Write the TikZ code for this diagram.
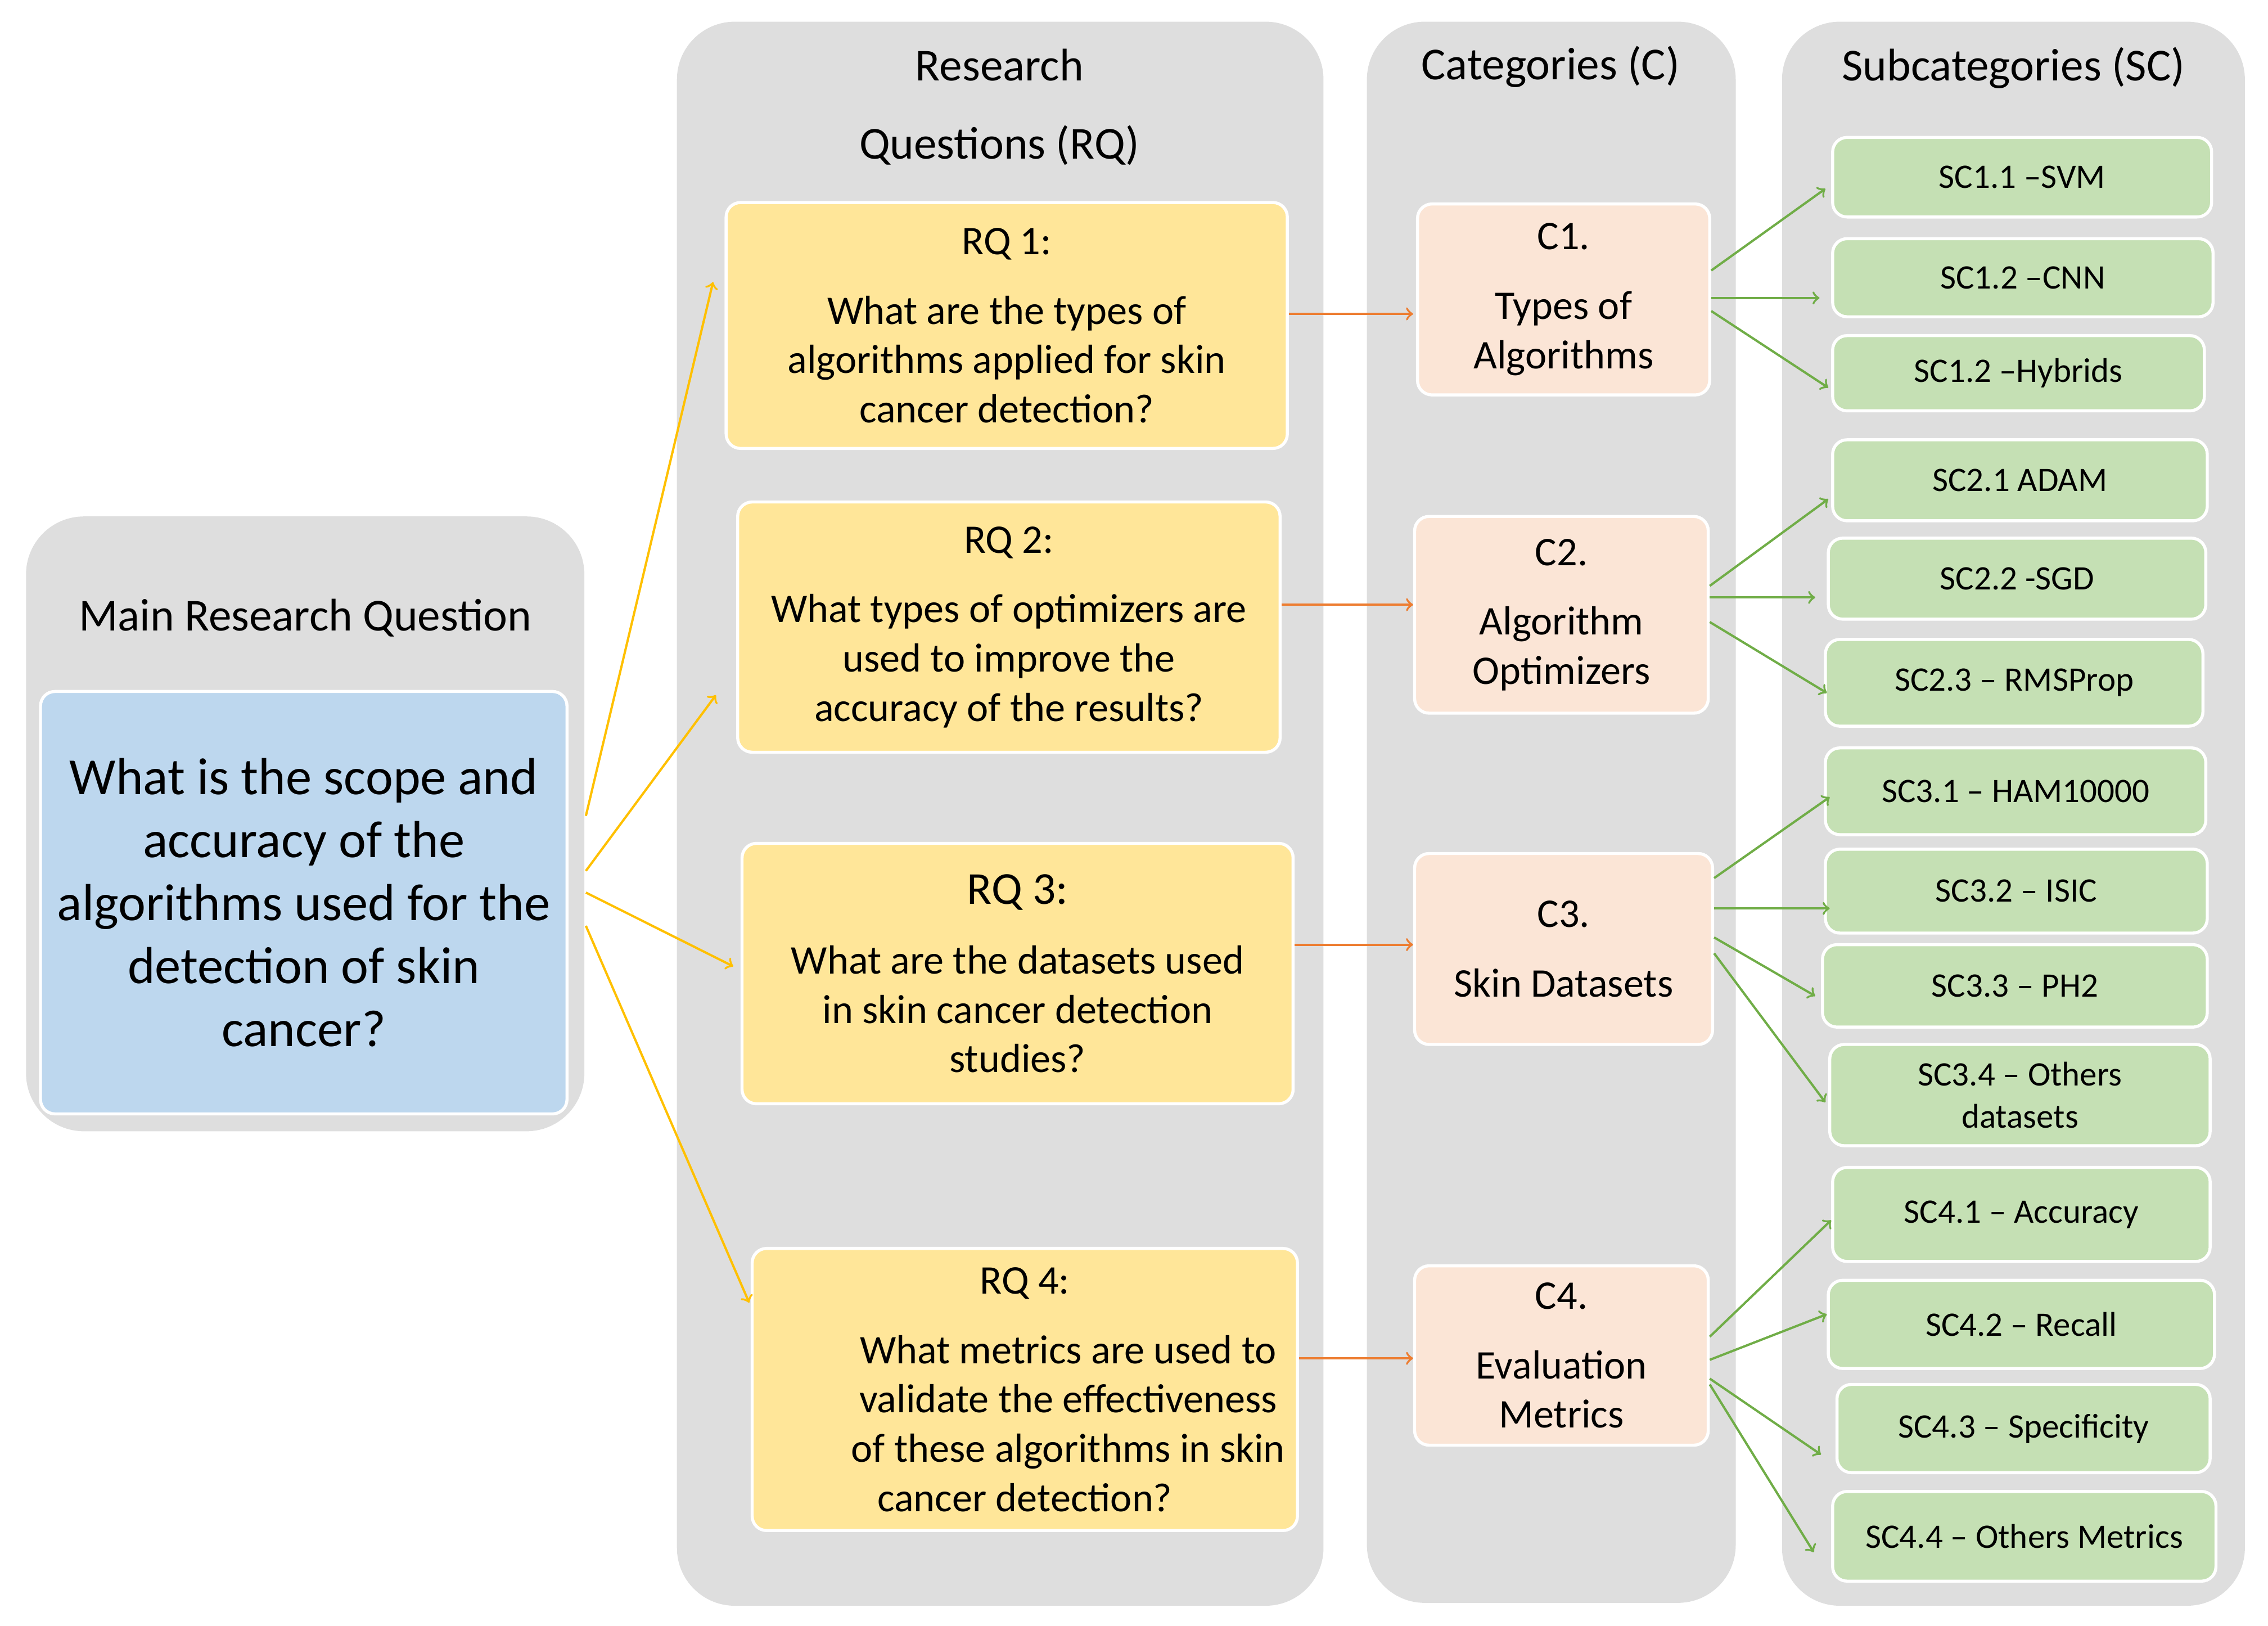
\documentclass[tikz,border=0pt]{standalone}
\usepackage{fontspec}
\setmainfont{Carlito}
\usetikzlibrary{calc}
\definecolor{pan}{HTML}{DEDEDE}
\definecolor{blu}{HTML}{BDD7EE}
\definecolor{yel}{HTML}{FFE699}
\definecolor{pch}{HTML}{FBE5D6}
\definecolor{grn}{HTML}{C5E0B4}
\definecolor{ya}{HTML}{FFC000}
\definecolor{oa}{HTML}{ED7D31}
\definecolor{ga}{HTML}{70AD47}
\newcommand\bx[7]{\node[#6, minimum width={(#4-#2)*0.02cm}, minimum height={(#5-#3)*0.02cm}] (#1) at ({(#2+#4)/2},{(#3+#5)/2}) {#7};}
\tikzset{
 panel/.style={fill=pan, draw=none, rounded corners=0.8cm, inner sep=0},
 box/.style={draw=white, line width=1.2pt, rounded corners=0.2cm, align=center, inner sep=2pt},
 mq/.style={box, fill=blu, font=\fontsize{20.5}{24.8}\selectfont},
 rq/.style={box, fill=yel, font=\fontsize{16}{19.4}\selectfont},
 cc/.style={box, fill=pch, font=\fontsize{16}{19.4}\selectfont},
 sc/.style={box, fill=grn, font=\fontsize{13.5}{16.5}\selectfont},
 hd/.style={font=\fontsize{18}{30.7}\selectfont, align=center},
 ay/.style={draw=ya, line width=0.9pt, ->},
 ao/.style={draw=oa, line width=0.9pt, ->},
 ag/.style={draw=ga, line width=0.9pt, ->},
}
\begin{document}
\begin{tikzpicture}[x=0.02cm,y=-0.02cm]
\useasboundingbox (0,0) rectangle (1568,1124);
\bx{pm}{18}{357}{404}{782}{panel}{}
\bx{pr}{468}{15}{915}{1110}{panel}{}
\bx{pc}{945}{15}{1200}{1108}{panel}{}
\bx{ps}{1232}{15}{1552}{1110}{panel}{}
\node[hd] (hm) at (211,427) {Main Research Question};
\node[hd] (hr) at (691,74) {Research\\Questions (RQ)};
\node[hd] (hc) at (1072,46) {Categories (C)};
\node[hd] (hs) at (1392,47) {Subcategories (SC)};
\bx{main}{28}{478}{392}{770}{mq}{What is the scope and\\accuracy of the\\algorithms used for the\\detection of skin\\cancer?}
\bx{rq1}{502}{140}{890}{310}{rq}{RQ 1:\\[8pt]What are the types of\\algorithms applied for skin\\cancer detection?}
\bx{rq2}{510}{347}{885}{520}{rq}{RQ 2:\\[8pt]What types of optimizers are\\used to improve the\\accuracy of the results?}
\bx{rq3}{513}{583}{894}{763}{rq}{{\fontsize{18}{20}\selectfont RQ 3:}\\[8pt]What are the datasets used\\in skin cancer detection\\studies?}
\bx{rq4}{520}{863}{897}{1058}{rq}{RQ 4:\\[8pt]\hspace*{1.2cm}What metrics are used to\\\hspace*{1.2cm}validate the effectiveness\\\hspace*{1.2cm}of these algorithms in skin\\cancer detection?}
\bx{c1}{980}{141}{1182}{273}{cc}{C1.\\[8pt]Types of\\Algorithms}
\bx{c2}{978}{357}{1181}{493}{cc}{C2.\\[8pt]Algorithm\\Optimizers}
\bx{c3}{978}{590}{1184}{722}{cc}{C3.\\[8pt]Skin Datasets}
\bx{c4}{978}{875}{1181}{999}{cc}{C4.\\[8pt]Evaluation\\Metrics}
\bx{s11}{1267}{95}{1529}{150}{sc}{SC1.1 –SVM}
\bx{s12}{1267}{165}{1530}{219}{sc}{SC1.2 –CNN}
\bx{s13}{1267}{232}{1524}{284}{sc}{SC1.2 –Hybrids}
\bx{s21}{1267}{304}{1526}{360}{sc}{SC2.1 ADAM}
\bx{s22}{1264}{372}{1525}{428}{sc}{SC2.2 -SGD}
\bx{s23}{1262}{442}{1523}{502}{sc}{SC2.3 – RMSProp}
\bx{s31}{1262}{517}{1525}{577}{sc}{SC3.1 – HAM10000}
\bx{s32}{1262}{587}{1526}{645}{sc}{SC3.2 – ISIC}
\bx{s33}{1260}{653}{1526}{710}{sc}{SC3.3 – PH2}
\bx{s34}{1265}{722}{1528}{792}{sc}{SC3.4 – Others\\datasets}
\bx{s41}{1267}{807}{1528}{872}{sc}{SC4.1 – Accuracy}
\bx{s42}{1264}{885}{1531}{946}{sc}{SC4.2 – Recall}
\bx{s43}{1270}{957}{1528}{1018}{sc}{SC4.3 – Specificity}
\bx{s44}{1267}{1031}{1532}{1093}{sc}{SC4.4 – Others Metrics}
% yellow
\draw[ay] ($(main.east)+(12,-60)$) -- ($(rq1.west)+(-8,-30)$);
\draw[ay] ($(main.east)+(12,-22)$) -- ($(rq2.west)+(-14,47)$);
\draw[ay] ($(main.east)+(12,-7)$) -- ($(rq3.west)+(-5,-5)$);
\draw[ay] ($(main.east)+(12,16)$) -- ($(rq4.west)+(-1,-60)$);
% orange
\draw[ao] (rq1.east|-c1.west) ++(0,10) coordinate (o1) -- ($(c1.west)+(-2,10)$);
\draw[ao] (rq2.east|-c2.west) ++(0,-7) coordinate (o2) -- ($(c2.west)+(0,-7)$);
\draw[ao] (rq3.east|-c3.west) ++(0,-3) coordinate (o3) -- ($(c3.west)+(0,-3)$);
\draw[ao] (rq4.east|-c4.west) ++(0,2) coordinate (o4) -- ($(c4.west)+(0,2)$);
% green
\draw[ag] ($(c1.east)+(0,-20)$) -- ($(s11.west)+(-4,8)$);
\draw[ag] ($(c1.east)+(0,-1)$) -- ($(s12.west)+(-8,14)$);
\draw[ag] ($(c1.east)+(0,8)$) -- ($(s13.west)+(-2,10)$);
\draw[ag] ($(c2.east)+(0,-20)$) -- ($(s21.west)+(-2,13)$);
\draw[ag] ($(c2.east)+(0,-12)$) -- ($(s22.west)+(-8,13)$);
\draw[ag] ($(c2.east)+(0,5)$) -- ($(s23.west)+(2,7)$);
\draw[ag] ($(c3.east)+(0,-49)$) -- ($(s31.west)+(4,4)$);
\draw[ag] ($(c3.east)+(0,-28)$) -- ($(s32.west)+(4,12)$);
\draw[ag] ($(c3.east)+(0,-8)$) -- ($(s33.west)+(-4,7)$);
\draw[ag] ($(c3.east)+(0,3)$) -- ($(s34.west)+(-2,5)$);
\draw[ag] ($(c4.east)+(0,-13)$) -- ($(s41.west)+(0,4)$);
\draw[ag] ($(c4.east)+(0,3)$) -- ($(s42.west)+(0,-7)$);
\draw[ag] ($(c4.east)+(0,16)$) -- ($(s43.west)+(-10,18)$);
\draw[ag] ($(c4.east)+(0,20)$) -- ($(s44.west)+(-12,11)$);
\end{tikzpicture}
\end{document}
